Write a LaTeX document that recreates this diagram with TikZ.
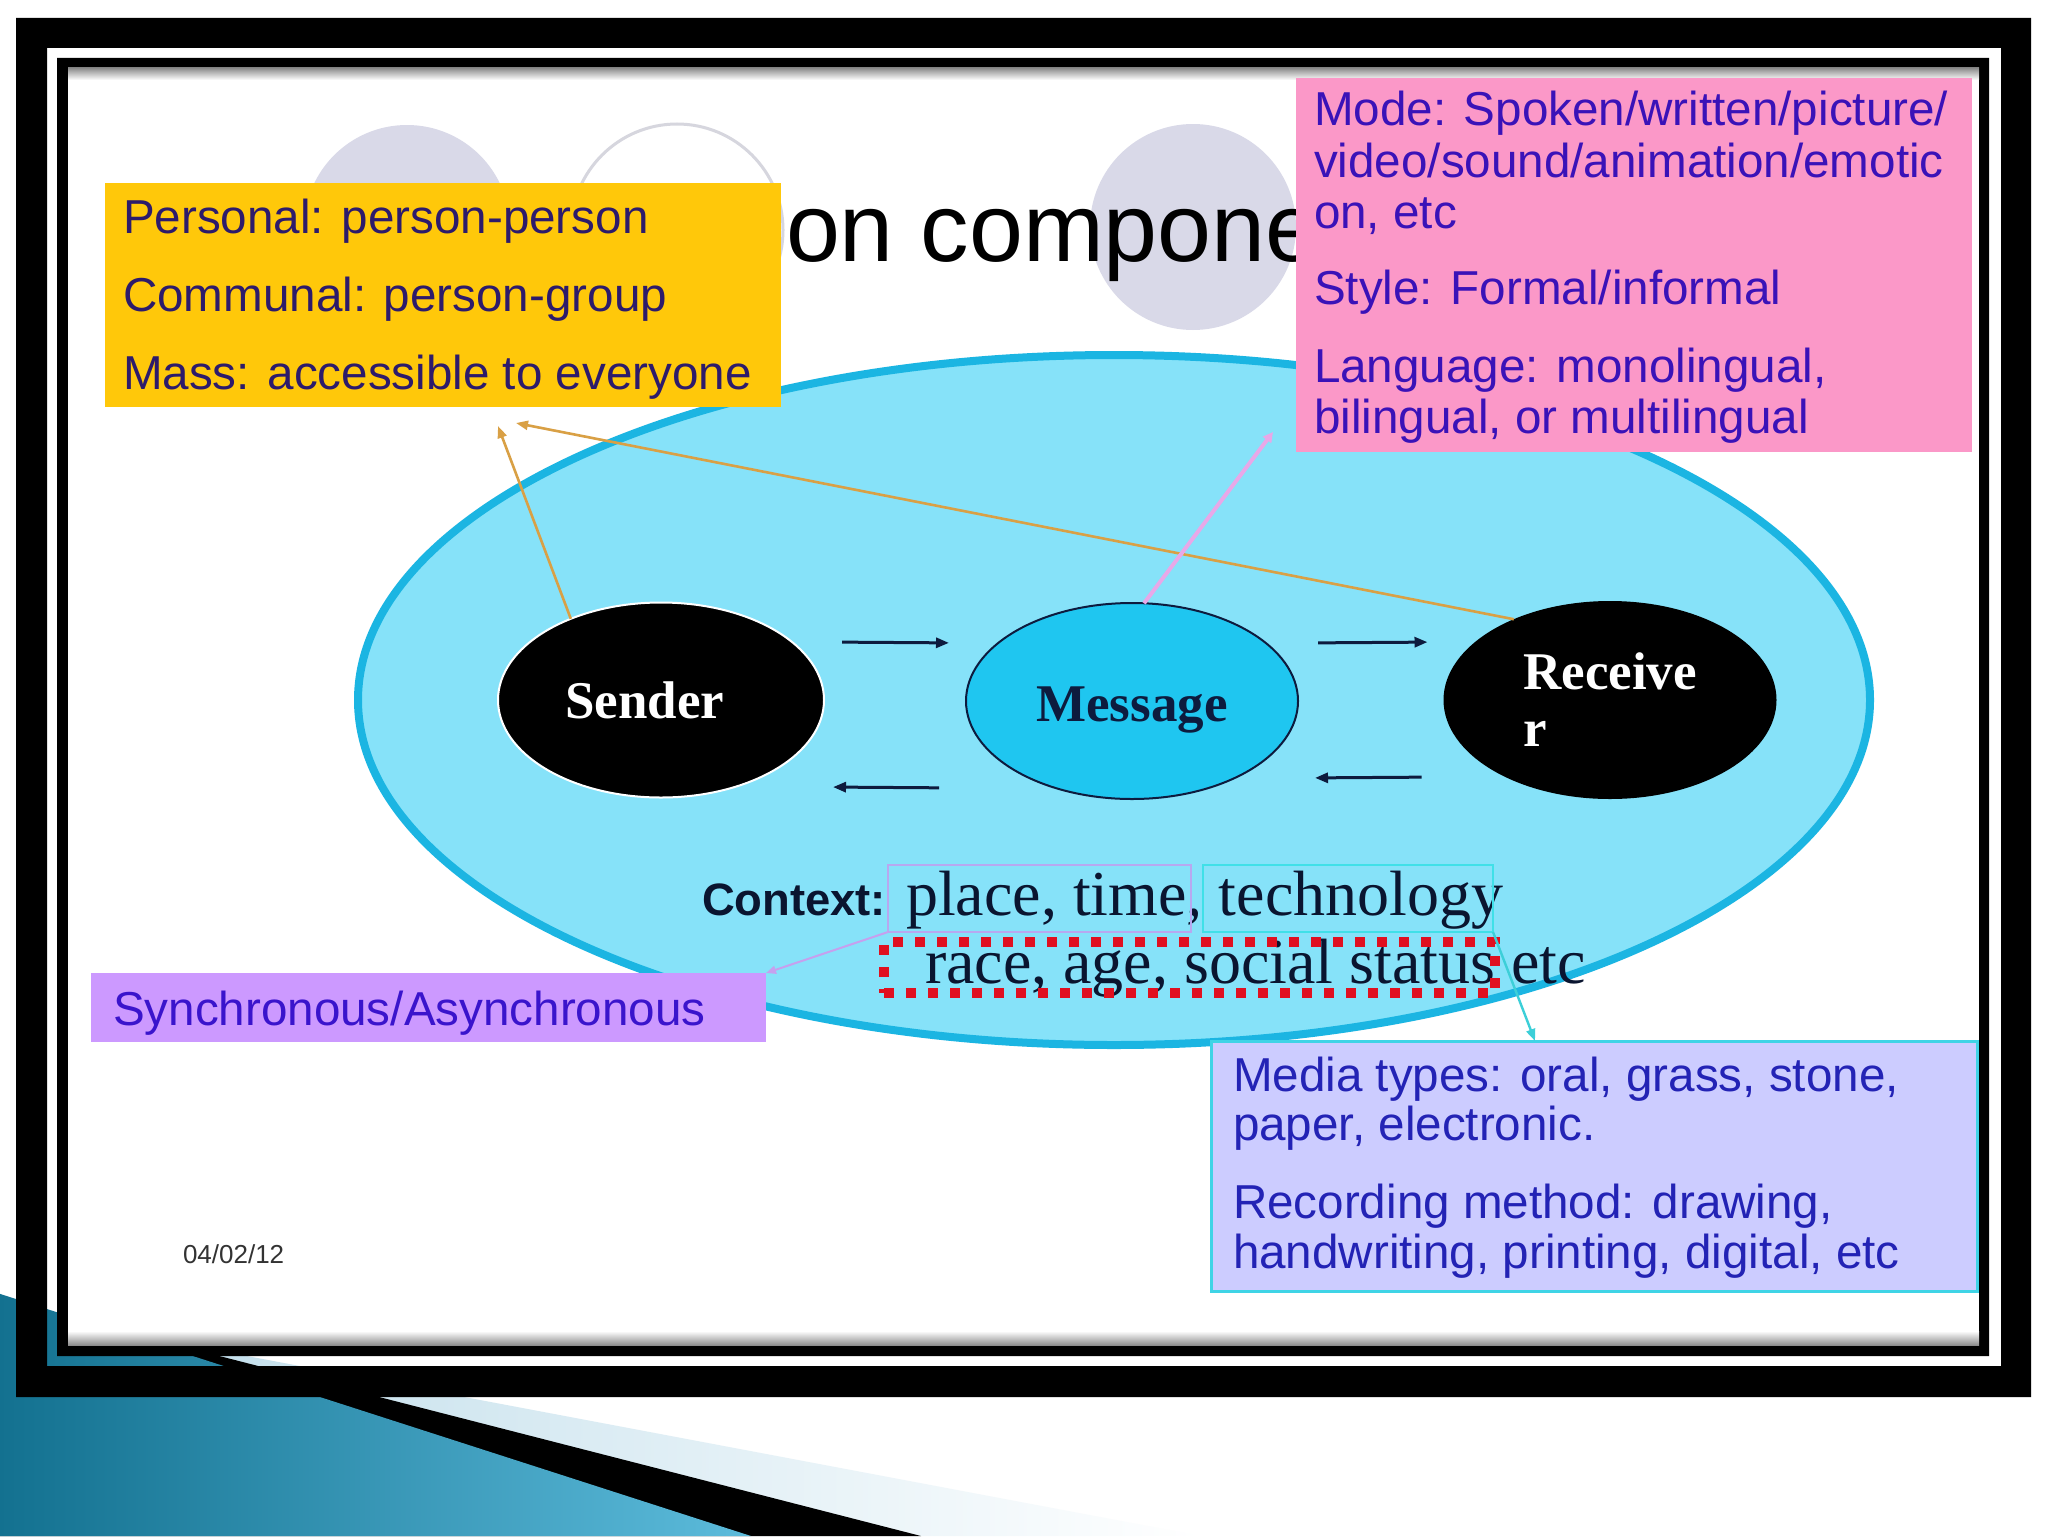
\documentclass[tikz,border=0pt]{standalone}
\usepackage{fontspec}
\setmainfont{Liberation Sans}
\newfontfamily\tnr{Liberation Serif}
\usetikzlibrary{arrows.meta,shapes.geometric,calc}
\definecolor{tealdark}{HTML}{12708F}
\definecolor{teallight}{HTML}{5CBBDB}
\definecolor{bandblue}{HTML}{B2D6E6}
\definecolor{circfill}{HTML}{D9D9E8}
\definecolor{circline}{HTML}{D6D6DE}
\definecolor{ctxfill}{HTML}{86E2F9}
\definecolor{ctxborder}{HTML}{1BB5E2}
\definecolor{msgfill}{HTML}{1FC6F0}
\definecolor{navy}{HTML}{0D1B3E}
\definecolor{goldbox}{HTML}{FFC80A}
\definecolor{pinkbox}{HTML}{FB98C8}
\definecolor{syncbox}{HTML}{CC99FF}
\definecolor{mediabox}{HTML}{CCCCFF}
\definecolor{mediaborder}{HTML}{3FD4E6}
\definecolor{orangetext}{HTML}{2D1B6B}
\definecolor{pinktext}{HTML}{3A12B8}
\definecolor{synctext}{HTML}{3A14CC}
\definecolor{mediatext}{HTML}{2323B5}
\definecolor{goldln}{HTML}{D9A045}
\definecolor{pinkln}{HTML}{E8A8E8}
\definecolor{lavln}{HTML}{C6A0EE}
\definecolor{cyanln}{HTML}{3CCFD8}
\definecolor{placeborder}{HTML}{B8A8F0}
\definecolor{techborder}{HTML}{40E0E8}
\definecolor{dotred}{HTML}{E01020}
\definecolor{ctxtext}{HTML}{0A1530}
\definecolor{datecol}{HTML}{333333}
\begin{document}
\begin{tikzpicture}[x=0.5pt,y=-0.5pt,
  every node/.style={inner sep=0pt,outer sep=0pt},
  boxline/.style={anchor=base west,font=\fontsize{23.8}{26}\selectfont},
  panel/.style={anchor=north west,rectangle},
  flow/.style={draw=navy,line width=1.5pt,-{Triangle[length=6.5pt,width=5pt]}},
  goldarrow/.style={draw=goldln,line width=1.3pt,-{Triangle[length=6pt,width=4.5pt]}},
  pinkarrow/.style={draw=pinkln,line width=2pt,-{Triangle[length=5pt,width=5pt]}},
  lavarrow/.style={draw=lavln,line width=1pt,-{Triangle[length=5pt,width=4pt]}},
  cyanarrow/.style={draw=cyanln,line width=1.2pt,-{Triangle[length=6pt,width=4.5pt]}},
  actor/.style={ellipse,fill=black,text=white,font=\tnr\bfseries\fontsize{26.5}{28.5}\selectfont},
  serifline/.style={anchor=base west,text=ctxtext,font=\tnr\fontsize{32}{34}\selectfont}
]
\useasboundingbox (0,0) rectangle (2048,1536);
\clip (0,0) rectangle (2048,1536);
\fill[white] (0,0) rectangle (2048,1536);

% bottom-left decoration
\shade[left color=bandblue,right color=white] (-103,1290) -- (1201,1536) -- (-103,1536) -- cycle;
\fill[black] (-38,1290) -- (921,1536) -- (-38,1536) -- cycle;
\shade[left color=tealdark,right color=teallight] (-12,1290) -- (751,1536) -- (-12,1536) -- cycle;

% frames
\fill[black,even odd rule] (16,18) rectangle (2031,1397) (47,48) rectangle (2001,1366);
\fill[black,even odd rule] (57,58) rectangle (1989,1356) (68,68) rectangle (1979,1345);
\fill[white] (68,68) rectangle (1979,1345);
\shade[top color=black!45,bottom color=white] (68,68) rectangle (1979,80);
\shade[top color=white,bottom color=black!45] (68,1331) rectangle (1979,1345);

% title decoration circles
\fill[circfill] (407,228) circle (51.5pt);
\draw[circline,line width=1.5pt] (677,230) circle (53pt);
\fill[circfill] (1193,227) circle (51.5pt);

% partial title
\node[anchor=base west,font=\fontsize{48.5}{50}\selectfont] (title) at (786,261) {on compone};

% context ellipse
\node[ellipse,draw=ctxborder,line width=4pt,fill=ctxfill,minimum width=756pt,minimum height=345pt] (ctx) at (1114,700) {};

% top-left box
\node[panel,fill=goldbox,minimum width=338pt,minimum height=112pt] (orange) at (105,183) {};
\node[boxline,text=orangetext] (o1) at (123,233) {Personal: person-person};
\node[boxline,text=orangetext] (o2) at (123,311) {Communal: person-group};
\node[boxline,text=orangetext] (o3) at (123,389) {Mass: accessible to everyone};

% top-right box
\node[panel,fill=pinkbox,minimum width=338pt,minimum height=187pt] (pink) at (1296,78) {};
\node[boxline,text=pinktext] (p1) at (1314,126) {Mode: Spoken/written/picture/};
\node[boxline,text=pinktext] (p2) at (1314,177) {video/sound/animation/emotic};
\node[boxline,text=pinktext] (p3) at (1314,228) {on, etc};
\node[boxline,text=pinktext] (p4) at (1314,304) {Style: Formal/informal};
\node[boxline,text=pinktext] (p5) at (1314,382) {Language: monolingual,};
\node[boxline,text=pinktext] (p6) at (1314,433) {bilingual, or multilingual};

% actors
\node[actor,draw=white,line width=1pt,minimum width=163pt,minimum height=97.5pt] (sender) at (661,700) {Sender\hspace*{16pt}};
\node[ellipse,fill=msgfill,draw=navy,line width=1pt,minimum width=166pt,minimum height=98pt,text=navy,font=\tnr\bfseries\fontsize{26.5}{28.5}\selectfont] (message) at (1132,701) {\rule{0pt}{26pt}Message};
\node[actor,align=left,minimum width=166.5pt,minimum height=99pt] (receiver) at (1610,700) {Receive\\r};

\draw[flow,shorten <=9pt,shorten >=8.5pt] ([yshift=29pt]sender.east) -- ([yshift=29pt]message.west);
\draw[flow,shorten <=10pt,shorten >=8pt] ([yshift=29pt]message.east) -- ([yshift=29pt]receiver.west);
\draw[flow,shorten <=11pt,shorten >=8.5pt] ([yshift=-38.5pt]receiver.west) -- ([yshift=-38.5pt]message.east);
\draw[flow,shorten <=13.5pt,shorten >=4.5pt] ([yshift=-43.5pt]message.west) -- ([yshift=-43.5pt]sender.east);

% context text
\node[anchor=base west,text=ctxtext,font=\bfseries\fontsize{22.7}{24}\selectfont] (ctxlabel) at (702,915) {Context:};
\node[serifline] (ctx1) at (906,915) {place, time, technology};
\node[serifline] (ctx2) at (925,983) {race, age, social status etc};
\node[panel,draw=placeborder,line width=1pt,minimum width=151.5pt,minimum height=33.5pt] (place) at (888,865) {};
\node[panel,draw=techborder,line width=1pt,minimum width=145pt,minimum height=33.5pt] (tech) at (1203,865) {};
\node[panel,draw=dotred,line width=5pt,dash pattern=on 5pt off 6pt,minimum width=305.5pt,minimum height=25.5pt] (social) at (884,942) {};

% bottom boxes
\node[panel,fill=syncbox,minimum width=337.5pt,minimum height=34.5pt] (sync) at (91,973) {};
\node[boxline,text=synctext] (s1) at (113,1025) {Synchronous/Asynchronous};

\node[panel,fill=mediabox,draw=mediaborder,line width=1.5pt,minimum width=383pt,minimum height=125pt] (media) at (1211,1041) {};
\node[boxline,text=mediatext] (m1) at (1233,1091) {Media types: oral, grass, stone,};
\node[boxline,text=mediatext] (m2) at (1233,1140) {paper, electronic.};
\node[boxline,text=mediatext] (m3) at (1233,1218) {Recording method: drawing,};
\node[boxline,text=mediatext] (m4) at (1233,1268) {handwriting, printing, digital, etc};

% connectors
\coordinate (g1) at (498,426);
\coordinate (g2) at (516,423);
\coordinate (pk) at (1273,432);
\coordinate (mt) at (1535,1041);
\draw[goldarrow] (sender.138) -- (g1);
\draw[goldarrow] (receiver.140) -- (g2);
\draw[pinkarrow] (message.83) -- (pk);
\draw[lavarrow] (place.south west) -- (sync.north east);
\draw[cyanarrow] (tech.south east) -- (mt);

% date
\node[anchor=base west,text=datecol,font=\fontsize{13}{14}\selectfont] (date) at (183,1263) {04/02/12};
\end{tikzpicture}
\end{document}
